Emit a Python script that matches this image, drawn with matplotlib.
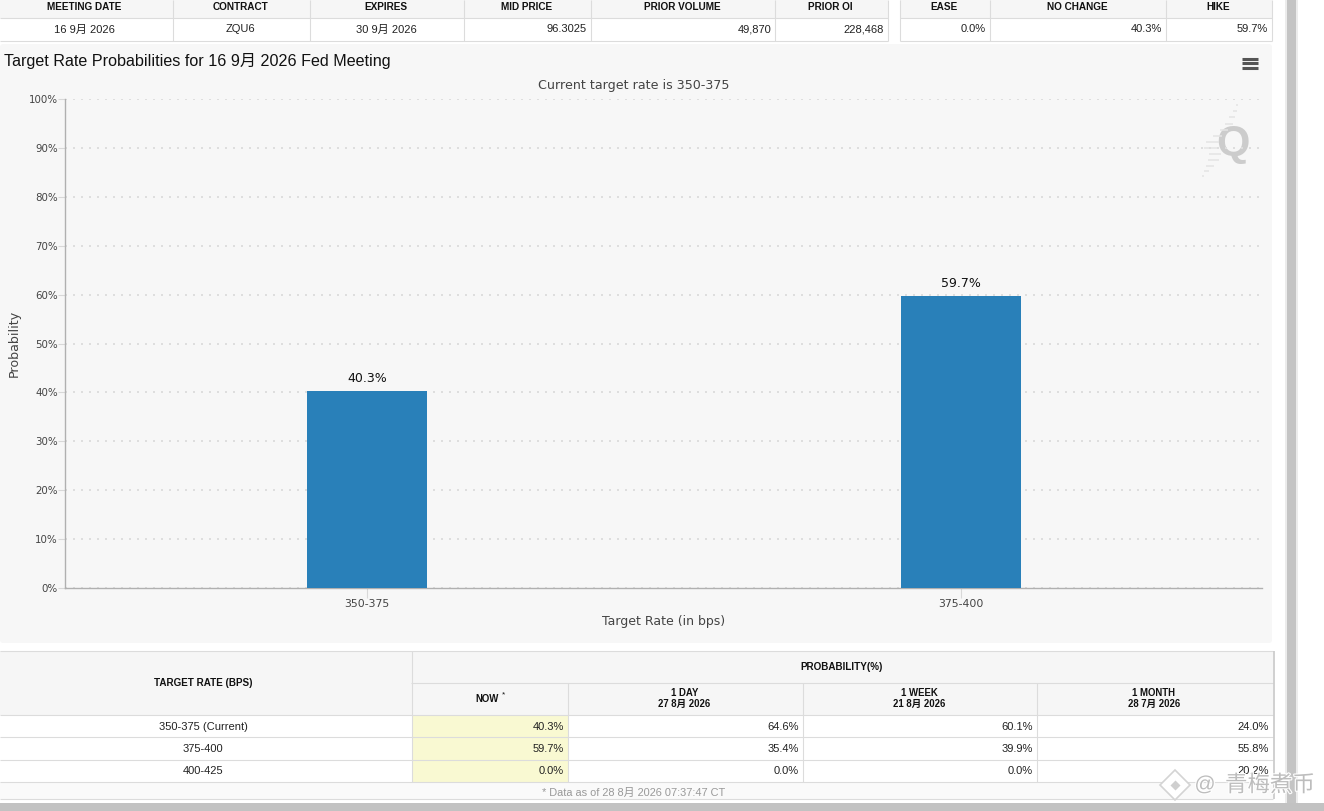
import matplotlib
matplotlib.use('Agg')
import matplotlib.pyplot as plt
import matplotlib.patheffects as pe
from matplotlib.patches import Rectangle, FancyBboxPatch

## chart values
rates = ['350-375', '375-400']
probs = [40.3, 59.7]
yticks = [0, 10, 20, 30, 40, 50, 60, 70, 80, 90, 100]

## top tables
info_head = ['MEETING DATE', 'CONTRACT', 'EXPIRES', 'MID PRICE', 'PRIOR VOLUME', 'PRIOR OI']
info_row = ['16 9月 2026', 'ZQU6', '30 9月 2026', '96.3025', '49,870', '228,468']
move_head = ['EASE', 'NO CHANGE', 'HIKE']
move_row = ['0.0%', '40.3%', '59.7%']

## bottom table
prob_head = ['NOW', '1 DAY\n27 8月 2026', '1 WEEK\n21 8月 2026', '1 MONTH\n28 7月 2026']
target_rows = ['350-375 (Current)', '375-400', '400-425']
now_col = ['40.3%', '59.7%', '0.0%']
day_col = ['64.6%', '35.4%', '0.0%']
week_col = ['60.1%', '39.9%', '0.0%']
month_col = ['24.0%', '55.8%', '20.2%']

W, H = 1324, 811
HEL = ['Liberation Sans', 'Noto Sans CJK SC']
LUC = ['DejaVu Sans', 'Noto Sans CJK SC']
LINE = '#dcdcdc'
HEAD = '#f6f6f6'

fig = plt.figure(figsize=(W / 100, H / 100), dpi=100, facecolor='white')

## page layer in pixel coordinates
pg = fig.add_axes([0, 0, 1, 1], zorder=0)
pg.set_xlim(0, W)
pg.set_ylim(H, 0)
pg.axis('off')


def box(x0, y0, x1, y1, fc='none', ec='none', lw=0.8, z=1):
	pg.add_patch(Rectangle((x0, y0), x1 - x0, y1 - y0, fc=fc, ec=ec, lw=lw, zorder=z))


def vline(x, y0, y1, c=LINE, lw=0.8):
	pg.plot([x, x], [y0, y1], color=c, lw=lw, zorder=2, solid_capstyle='butt')


def hline(y, x0, x1, c=LINE, lw=0.8):
	pg.plot([x0, x1], [y, y], color=c, lw=lw, zorder=2, solid_capstyle='butt')


def head(x, y, s, size=7.2):
	pg.text(x, y, s, ha='center', va='center', fontsize=size, fontweight='bold',
		family=HEL, color='#111111', zorder=3, linespacing=1.05)


def cell(x, y, s, ha='right'):
	pg.text(x, y, s, ha=ha, va='center', fontsize=8.0, family=HEL, color='#222222', zorder=3)


## scrollbars
box(1285, 0, 1298, H, fc='#ececec')
box(1287, 0, 1296, H, fc='#c4c4c4')
box(0, 803, W, H, fc='#c2c2c2')

## top left table
edges = [0, 173, 310, 464, 591, 775, 888]
box(0, 0, 888, 18, fc=HEAD)
hline(18, 0, 888)
hline(40.5, 0, 888)
for x in edges[1:]:
	vline(x, 0, 40.5)
for i in range(6):
	offset = 2.5 if i == 0 else 1
	head((edges[i] + edges[i + 1]) / 2 - offset, 7.5, info_head[i])
	if i < 3:
		cell((edges[i] + edges[i + 1]) / 2 - offset, 29.5, info_row[i], ha='center')
	else:
		cell(edges[i + 1] - 4, 29.5, info_row[i])

## top right table
edges2 = [900, 990, 1166, 1272]
box(900, 0, 1272, 18, fc=HEAD)
hline(18, 900, 1272)
hline(40.5, 900, 1272)
for x in edges2:
	vline(x, 0, 40.5)
for i in range(3):
	head((edges2[i] + edges2[i + 1]) / 2 - 1, 7.5, move_head[i])
	cell(edges2[i + 1] - 4, 29.5, move_row[i])

## chart panel
pg.add_patch(FancyBboxPatch((0, 44), 1272, 599, boxstyle='round,pad=0,rounding_size=3',
	fc='#f7f7f7', ec='none', zorder=1))
pg.text(4, 61, 'Target Rate Probabilities for 16 9月 2026 Fed Meeting', ha='left', va='center',
	fontsize=11.58, family=HEL, color='#111111', zorder=3)
pg.text(634, 85, 'Current target rate is 350-375', ha='center', va='center',
	fontsize=9.1, family=LUC, color='#444444', zorder=3)

## menu icon
for y in [58.5, 63, 67.5]:
	hline(y, 1242, 1258, c='#555555', lw=2.2)

## logo watermark
pg.text(1233, 144, 'Q', ha='center', va='center', fontsize=31, fontweight='bold',
	family=HEL, color='#cccccc', zorder=2)
for y, x0, x1 in [(105, 1236, 1238), (111, 1233, 1237), (117, 1229, 1235), (124, 1225, 1233),
		(130, 1220, 1228), (136, 1213, 1222), (142, 1206, 1219), (148, 1204, 1218),
		(154, 1209, 1221), (160, 1208, 1219), (166, 1206, 1214), (171, 1204, 1209), (176, 1202, 1204)]:
	hline(y, x0, x1, c='#e4e4e4', lw=1.1)

## chart axes, pixel box 65..1262 x 99..588
ax = fig.add_axes([65 / W, 1 - 588 / H, (1262 - 65) / W, (588 - 99) / H], zorder=2)
ax.patch.set_alpha(0)
xs = list(range(len(rates)))
bars = ax.bar(xs, probs, width=0.202, color='#2980b9', zorder=3)
for b, v in zip(bars, probs):
	ax.text(b.get_x() + b.get_width() / 2, v + 1.2, str(v) + '%', ha='center', va='bottom',
		fontsize=9.0, family=LUC, color='#111111')
ax.set_xlim(-0.508, 1.507)
ax.set_ylim(0, 100)
ax.set_xticks(xs)
ax.set_xticklabels(rates, fontsize=7.8, family=LUC, color='#444444')
ax.set_yticks(yticks)
ax.set_yticklabels([str(t) + '%' for t in yticks], fontsize=7.4, family=LUC, color='#444444')
ax.tick_params(axis='x', length=7, width=0.8, color='#d8d8d8', pad=1)
ax.tick_params(axis='y', length=5, width=0.8, color='#d8d8d8', pad=0)
ax.grid(axis='y', color='#dedede', lw=1.44, ls=(0, (1, 3)), zorder=1)
ax.set_axisbelow(True)
for s in ['top', 'right']:
	ax.spines[s].set_visible(False)
for s in ['left', 'bottom']:
	ax.spines[s].set_color('#b0b0b0')
	ax.spines[s].set_linewidth(1.0)
ax.set_xlabel('Target Rate (in bps)', fontsize=9.0, family=LUC, color='#444444', labelpad=4.5)
ax.set_ylabel('Probability', fontsize=9.1, family=LUC, color='#444444', labelpad=6)

## bottom table
cols = [0, 411, 568, 803, 1037, 1273]
rows_y = [715, 737, 760, 782]
box(0, 651, 1273, 715, fc=HEAD)
box(0, 782, 1273, 799, fc='#fafafa')
box(411.5, 715, 568, 782, fc='#f9f9d2')
hline(651, 0, 1273)
hline(683, 411, 1273)
for y in rows_y + [799]:
	hline(y, 0, 1273)
vline(411.5, 651, 782)
vline(1273.5, 651, 799, c='#c8c8c8', lw=1.2)
for x in cols[2:5]:
	vline(x, 683, 782)
head(203, 682.5, 'TARGET RATE (BPS)', size=7.1)
head(842, 666.5, 'PROBABILITY(%)', size=7.1)
head(487, 698.5, 'NOW', size=6.9)
pg.text(503, 695, '*', ha='center', va='center', fontsize=6, family=HEL, color='#111111', zorder=3)
for i in range(1, 4):
	head((cols[i + 1] + cols[i + 2]) / 2 - 1, 698.5, prob_head[i], size=6.9)
table_cols = [now_col, day_col, week_col, month_col]
for r in range(3):
	yc = (rows_y[r] + rows_y[r + 1]) / 2 + 0.5
	cell(203, yc, target_rows[r], ha='center')
	for c in range(4):
		cell(cols[c + 2] - 4, yc, table_cols[c][r])
pg.text(634, 793, '* Data as of 28 8月 2026 07:37:47 CT', ha='center', va='center', fontsize=7.95,
	family=HEL, color='#999999', zorder=3)

## site watermark
halo = [pe.withStroke(linewidth=1.6, foreground='#ffffff')]
pg.text(1270, 785, '青梅煮币', ha='center', va='center', fontsize=16.2,
	family=['Noto Sans CJK SC', 'DejaVu Sans'], color='#bdbdbd', zorder=5, path_effects=halo)
pg.text(1205, 785, '@', ha='center', va='center', fontsize=15,
	family=['Liberation Sans'], color='#bdbdbd', zorder=5, path_effects=halo)
pg.plot([1175], [785], marker='D', ms=15, mfc='#ffffff', mec='#d4d4d4', mew=1.2, zorder=5)
pg.plot([1175], [785], marker='D', ms=6, mfc='#cfcfcf', mec='#ffffff', mew=1, zorder=6)

fig.savefig('out.png', dpi=100)
